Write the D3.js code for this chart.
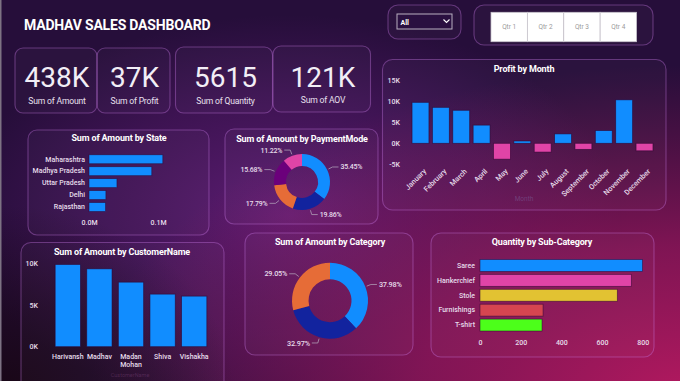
<!DOCTYPE html>
<html><head><meta charset="utf-8">
<script src="https://cdn.jsdelivr.net/npm/d3@7"></script>
<style>
html,body{margin:0;padding:0;background:#240d36;overflow:hidden;}
svg{display:block;font-family:Roboto,"Noto Sans",sans-serif;}
</style></head>
<body>
<svg id="c" width="680" height="381"></svg>
<script>
// ---------- DATA ----------
const kpiValues = ["438K", "37K", "5615", "121K"];
const kpiLabels = ["Sum of Amount", "Sum of Profit", "Sum of Quantity", "Sum of AOV"];
const quarters = ["Qtr 1", "Qtr 2", "Qtr 3", "Qtr 4"];
const months = ["January","February","March","April","May","June","July","August","September","October","November","December"];
const monthProfit = [9800, 8600, 7900, 4350, -3800, 550, -2100, 2250, -1450, 3050, 10400, -1800];
const profitTicks = [-5000, 0, 5000, 10000, 15000];
const states = ["Maharashtra", "Madhya Pradesh", "Uttar Pradesh", "Delhi", "Rajasthan"];
const stateAmount = [107000, 91000, 40500, 24500, 24000];
const stateTicks = [0, 100000];
const payModes = ["COD", "UPI", "Debit Card", "Credit Card", "EMI"];
const payShare = [35.45, 19.86, 17.79, 15.68, 11.22];
const customers = ["Harivansh", "Madhav", "Madan Mohan", "Shiva", "Vishakha"];
const customerAmount = [9880, 9360, 7760, 6320, 6080];
const customerTicks = [0, 5000, 10000];
const categories = ["Clothing", "Electronics", "Furniture"];
const categoryShare = [37.98, 32.97, 29.05];
const subCats = ["Saree", "Hankerchief", "Stole", "Furnishings", "T-shirt"];
const subCatQty = [799, 744, 675, 310, 305];
const subCatTicks = [0, 200, 400, 600, 800];

// ---------- STYLE ----------
const pbi = ["#118DFF", "#12239E", "#E66C37", "#6B007B", "#E044A7"];
const subColors = ["#118DFF", "#E044A7", "#E2C232", "#D64550", "#4CFF1A"];
const lbl = "#e6dcea";
const cardStroke = "rgba(200,120,230,0.38)";
const barStroke = "rgba(45,5,50,0.7)";

const svg = d3.select("#c");
const defs = svg.append("defs");

function radial(id, tx, ty, sx, sy, stops){
  const g = defs.append("radialGradient").attr("id",id).attr("gradientUnits","userSpaceOnUse")
    .attr("cx",0).attr("cy",0).attr("r",1).attr("gradientTransform",`translate(${tx},${ty}) scale(${sx},${sy})`);
  stops.forEach(s=>g.append("stop").attr("offset",s[0]).attr("stop-color",s[1]).attr("stop-opacity",s[2]));
}
radial("glow", 290, 215, 330, 200, [[0,"#6a2080",0.85],[0.6,"#5a1a70",0.45],[1,"#5a1a70",0]]);
radial("mag", 690, 395, 600, 330, [[0,"#b3195f",1],[0.45,"#95165a",0.8],[1,"#8a1454",0]]);
radial("dark", 5, 395, 230, 190, [[0,"#16050f",0.85],[1,"#16050f",0]]);

svg.append("rect").attr("width",680).attr("height",381).attr("fill","#260e3a");
svg.append("rect").attr("width",680).attr("height",381).attr("fill","url(#glow)");
svg.append("rect").attr("width",680).attr("height",381).attr("fill","url(#mag)");
svg.append("rect").attr("width",680).attr("height",381).attr("fill","url(#dark)");
svg.append("rect").attr("x",0).attr("y",0).attr("width",1.5).attr("height",381).attr("fill","#7d7283");

function card(x,y,w,h,rx){
  svg.append("rect").attr("x",x).attr("y",y).attr("width",w).attr("height",h).attr("rx",rx||8)
    .attr("fill","rgba(255,255,255,0.025)").attr("stroke",cardStroke).attr("stroke-width",1.1);
}
function title(x,y,t,size){
  svg.append("text").attr("x",x).attr("y",y).attr("text-anchor","middle")
    .attr("font-size",size||9).attr("font-weight",700).attr("letter-spacing",-0.15)
    .attr("fill","#fff").text(t);
}
function styleAxis(g, size){
  g.select(".domain").remove();
  g.selectAll(".tick line").remove();
  g.selectAll("text").attr("fill",lbl).attr("font-size",size||7).attr("font-weight",500)
    .attr("font-family","Roboto,sans-serif");
}

// ---------- HEADER ----------
svg.append("text").attr("x",24).attr("y",30).attr("font-size",14).attr("font-weight",700)
  .attr("letter-spacing",-0.2).attr("fill","#fff").text("MADHAV SALES DASHBOARD");

// slicers
card(388,5,73,34,10);
svg.append("rect").attr("x",397).attr("y",14).attr("width",55).attr("height",15)
  .attr("fill","#2a1040").attr("stroke","#b9b0c0").attr("stroke-width",1);
svg.append("text").attr("x",400.5).attr("y",24.5).attr("font-size",7).attr("font-weight",700).attr("fill","#fff").text("All");
svg.append("path").attr("d","M443.5,19.5 L446.5,22.5 L449.5,19.5").attr("fill","none").attr("stroke","#fff").attr("stroke-width",1.1);

card(474,5,179,40,10);
const qx = d3.scaleBand().domain(quarters).range([491,636.5]);
svg.append("g").selectAll("rect").data(quarters).join("rect")
  .attr("x",d=>qx(d)).attr("y",12.3).attr("width",qx.bandwidth()).attr("height",29.4)
  .attr("fill","#fff").attr("stroke","#c8c4cc").attr("stroke-width",0.8);
svg.append("g").selectAll("text").data(quarters).join("text")
  .attr("x",d=>qx(d)+qx.bandwidth()/2).attr("y",29).attr("text-anchor","middle")
  .attr("font-size",6.5).attr("fill","#9a9a9a").text(d=>d);

// ---------- KPI CARDS ----------
const kpiBoxes = [[15,48,82,65],[97,48,73,65],[175.5,47,97,66],[273,46,97.5,66]];
const kpiCx = [57, 134.5, 225.5, 323];
kpiBoxes.forEach(b=>card(b[0],b[1],b[2],b[3],8));
svg.append("g").selectAll("text").data(kpiValues).join("text")
  .attr("x",(d,i)=>kpiCx[i]).attr("y",87.3).attr("text-anchor","middle")
  .attr("font-size",28).attr("fill","#f2eef6").text(d=>d);
svg.append("g").selectAll("text").data(kpiLabels).join("text")
  .attr("x",(d,i)=>kpiCx[i]).attr("y",(d,i)=>i===3?102.7:104).attr("text-anchor","middle")
  .attr("font-size",8.6).attr("letter-spacing",-0.2).attr("fill","#e8e0ee").text(d=>d);

// ---------- PROFIT BY MONTH ----------
card(382.5,59.5,283.5,150.5,10);
title(524,72,"Profit by Month");
{
  const x = d3.scaleBand().domain(months).range([410,655]).paddingInner(0.17).paddingOuter(0.1);
  const y = d3.scaleLinear().domain([-5000,15000]).range([164.2,80.6]);
  const ay = svg.append("g").attr("transform","translate(403,0)")
    .call(d3.axisLeft(y).tickValues(profitTicks).tickFormat(d=>(d/1000)+"K").tickSize(0).tickPadding(3));
  styleAxis(ay,7);
  svg.append("g").selectAll("rect").data(monthProfit).join("rect")
    .attr("x",(d,i)=>x(months[i])).attr("width",x.bandwidth())
    .attr("y",d=>y(Math.max(0,d))).attr("height",d=>Math.abs(y(d)-y(0)))
    .attr("fill",d=>d>=0?"#118DFF":"#E044A7").attr("stroke",barStroke).attr("stroke-width",0.8);
  const ax = svg.append("g").attr("transform","translate(0,0)")
    .call(d3.axisBottom(x).tickSize(0));
  styleAxis(ax,7.3);
  ax.selectAll("text").attr("y",0).attr("dy","0.35em").attr("text-anchor","end")
    .attr("transform",d=>`translate(${x.bandwidth()/2-4},170) rotate(-45)`);
  svg.append("text").attr("x",524).attr("y",201).attr("text-anchor","middle").attr("font-size",6.5)
    .attr("fill","rgba(120,80,140,0.7)").text("Month");
}

// ---------- STATE ----------
card(28,130,181,105,9);
title(119,141,"Sum of Amount by State");
{
  const y = d3.scaleBand().domain(states).range([153.3,213]).paddingInner(0.25).paddingOuter(0.125);
  const x = d3.scaleLinear().domain([0,100000]).range([89,158]);
  svg.append("g").selectAll("rect").data(stateAmount).join("rect")
    .attr("x",x(0)).attr("y",(d,i)=>y(states[i])).attr("height",y.bandwidth())
    .attr("width",d=>x(d)-x(0)).attr("fill","#118DFF").attr("stroke",barStroke).attr("stroke-width",0.7);
  const ay = svg.append("g").attr("transform","translate(89,0)")
    .call(d3.axisLeft(y).tickSize(0).tickPadding(4));
  styleAxis(ay,7);
  const ax = svg.append("g").attr("transform","translate(0,218)")
    .call(d3.axisBottom(x).tickValues(stateTicks).tickFormat(d=>d3.format(".1f")(d/1e6)+"M").tickSize(0).tickPadding(2));
  styleAxis(ax,7);
}

// ---------- DONUT helper ----------
function donut(cx,cy,rIn,rOut,vals,colors,fs){
  const pie = d3.pie().sort(null).value(d=>d);
  const arcs = pie(vals);
  const arc = d3.arc().innerRadius(rIn).outerRadius(rOut);
  const g = svg.append("g").attr("transform",`translate(${cx},${cy})`);
  g.selectAll("path").data(arcs).join("path").attr("d",arc).attr("fill",(d,i)=>colors[i]);
  arcs.forEach(a=>{
    const m = (a.startAngle+a.endAngle)/2;
    const s = Math.sin(m), c = -Math.cos(m);
    const p1 = [ (rOut+1.5)*s, (rOut+1.5)*c ];
    const p2 = [ (rOut+6)*s, (rOut+6)*c ];
    const dir = s>=0?1:-1;
    const p3 = [ p2[0]+6*dir, p2[1] ];
    g.append("polyline").attr("points",[p1,p2,p3].map(p=>p.join(",")).join(" "))
      .attr("fill","none").attr("stroke","#b8aec0").attr("stroke-width",0.7);
    g.append("text").attr("x",p3[0]+2*dir).attr("y",p3[1]).attr("dy","0.35em")
      .attr("text-anchor",dir>0?"start":"end").attr("font-size",fs).attr("font-weight",500)
      .attr("letter-spacing",-0.2).attr("fill",lbl).text(d3.format(".2f")(a.data)+"%");
  });
}

// ---------- PAYMENT MODE ----------
card(225,129,153,95,9);
title(302,142,"Sum of Amount by PaymentMode");
donut(302,182,16,28,payShare,pbi,7);

// ---------- CUSTOMER ----------
card(21,242.5,203,150,10);
title(122,255,"Sum of Amount by CustomerName");
{
  const x = d3.scaleBand().domain(customers).range([52,210]).paddingInner(0.2).paddingOuter(0.1);
  const y = d3.scaleLinear().domain([0,10000]).range([346.7,263.5]);
  const ay = svg.append("g").attr("transform","translate(41,0)")
    .call(d3.axisLeft(y).tickValues(customerTicks).tickFormat(d=>(d/1000)+"K").tickSize(0).tickPadding(3));
  styleAxis(ay,7);
  svg.append("g").selectAll("rect").data(customerAmount).join("rect")
    .attr("x",(d,i)=>x(customers[i])).attr("width",x.bandwidth())
    .attr("y",d=>y(d)).attr("height",d=>y(0)-y(d))
    .attr("fill","#118DFF").attr("stroke",barStroke).attr("stroke-width",0.8);
  const ax = svg.append("g").attr("transform","translate(0,352)")
    .call(d3.axisBottom(x).tickSize(0).tickPadding(2));
  styleAxis(ax,7);
  ax.selectAll("text").each(function(d){
    const t = d3.select(this); const words = d.split(" ");
    if(words.length>1){
      t.text(null);
      words.forEach((w,i)=>t.append("tspan").attr("x",0).attr("dy",i===0?"0.71em":"1.1em").text(w));
    }
  });
  svg.append("text").attr("x",130).attr("y",377).attr("text-anchor","middle").attr("font-size",5.5)
    .attr("fill","rgba(110,60,110,0.55)").text("CustomerName");
}

// ---------- CATEGORY ----------
card(245,233,168,122,10);
title(330,245,"Sum of Amount by Category");
donut(330,300.7,21.5,38,categoryShare,pbi,7.3);

// ---------- SUB-CATEGORY ----------
card(431,233,223,124,10);
title(542,245,"Quantity by Sub-Category");
{
  const y = d3.scaleBand().domain(subCats).range([258,332.5]).paddingInner(0.2).paddingOuter(0.1);
  const x = d3.scaleLinear().domain([0,800]).range([480,642.7]);
  svg.append("g").selectAll("rect").data(subCatQty).join("rect")
    .attr("x",x(0)).attr("y",(d,i)=>y(subCats[i])).attr("height",y.bandwidth())
    .attr("width",d=>x(d)-x(0)).attr("fill",(d,i)=>subColors[i]).attr("stroke",barStroke).attr("stroke-width",0.7);
  const ay = svg.append("g").attr("transform","translate(480,0)")
    .call(d3.axisLeft(y).tickSize(0).tickPadding(5));
  styleAxis(ay,7);
  const ax = svg.append("g").attr("transform","translate(0,338.5)")
    .call(d3.axisBottom(x).tickValues(subCatTicks).tickSize(0).tickPadding(2));
  styleAxis(ax,7);
}
</script>
</body></html>
